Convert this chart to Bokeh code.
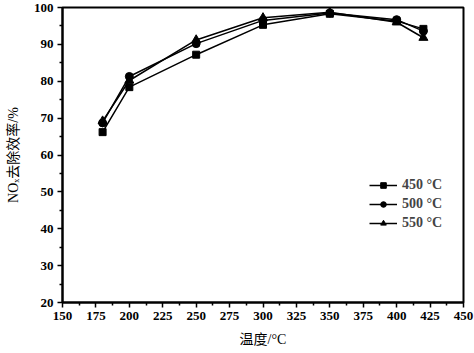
from bokeh.plotting import figure
from bokeh.models import Range1d, FixedTicker, Legend, LegendItem
from bokeh.embed import file_html
from bokeh.resources import INLINE

temps = [180, 200, 250, 300, 350, 400, 420]
s450 = [66.2, 78.4, 87.2, 95.3, 98.3, 96.3, 94.2]
s500 = [68.7, 81.3, 90.2, 96.5, 98.5, 96.7, 93.6]
s550 = [69.2, 80.2, 91.2, 97.2, 98.7, 96.0, 91.8]
labels = ["450 °C", "500 °C", "550 °C"]
x_ticks = list(range(150, 451, 25))
y_ticks = list(range(20, 101, 10))

SERIF = "Liberation Serif, Noto Sans CJK SC"

p = figure(width=474, height=353, output_backend="svg", toolbar_location=None,
           x_range=Range1d(150, 450), y_range=Range1d(20, 100),
           min_border_left=62, min_border_right=11, min_border_top=7, min_border_bottom=51)
p.background_fill_color = "white"
p.border_fill_color = "white"
p.grid.visible = False
p.outline_line_color = "black"
p.outline_line_width = 2

for ax in (p.xaxis[0], p.yaxis[0]):
    ax.axis_line_color = "black"
    ax.axis_line_width = 2
    ax.major_tick_line_color = "black"
    ax.minor_tick_line_color = "black"
    ax.major_tick_line_width = 1.5
    ax.minor_tick_line_width = 1.5
    ax.major_tick_out = 5
    ax.major_tick_in = 0
    ax.minor_tick_out = 3
    ax.minor_tick_in = 0
    ax.major_label_text_font = "Liberation Serif"
    ax.major_label_text_font_style = "bold"
    ax.major_label_text_font_size = "13px"
    ax.major_label_text_color = "black"
    ax.axis_label_text_font = SERIF
    ax.axis_label_text_font_style = "normal"
    ax.axis_label_text_font_size = "14px"
    ax.axis_label_text_color = "black"

p.xaxis.ticker = FixedTicker(ticks=x_ticks, minor_ticks=[v + 12.5 for v in x_ticks[:-1]])
p.yaxis.ticker = FixedTicker(ticks=y_ticks, minor_ticks=[v + 5 for v in y_ticks[:-1]])
p.xaxis.axis_label = "温度/°C"
p.yaxis.axis_label = "NOₓ去除效率/%"
p.xaxis.major_label_standoff = 4
p.xaxis.axis_label_standoff = 9
p.yaxis.major_label_standoff = 4
p.yaxis.axis_label_standoff = 10

items = []
for ys, lab, mk, sz in [(s450, labels[0], "square", 7), (s500, labels[1], "circle", 8), (s550, labels[2], "triangle", 9)]:
    ln = p.line(temps, ys, line_color="black", line_width=1.5)
    sc = p.scatter(temps, ys, marker=mk, size=sz, fill_color="black", line_color="black")
    items.append(LegendItem(label=lab, renderers=[ln, sc]))

legend = Legend(items=items, location=(307, 71))
legend.border_line_color = None
legend.background_fill_alpha = 0
legend.label_text_font = "Liberation Serif"
legend.label_text_font_style = "bold"
legend.label_text_font_size = "14px"
legend.glyph_width = 28
legend.glyph_height = 14
legend.spacing = 3
legend.label_standoff = 5
legend.padding = 0
legend.margin = 0
p.add_layout(legend, "center")

open("out.html", "w").write(file_html(p, INLINE))
